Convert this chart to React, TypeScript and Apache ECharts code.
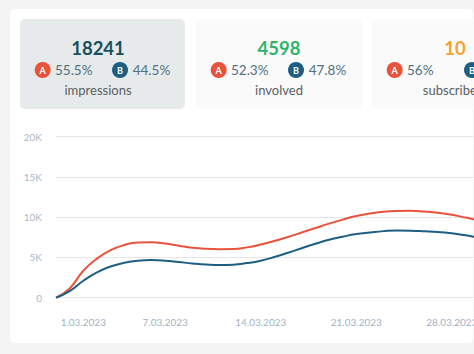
import React, { useEffect, useRef } from 'react';
import * as echarts from 'echarts';

const categories = [
  '27.02.2023', '28.02.2023', '1.03.2023', '2.03.2023', '3.03.2023', '4.03.2023', '5.03.2023',
  '6.03.2023', '7.03.2023', '8.03.2023', '9.03.2023', '10.03.2023', '11.03.2023', '12.03.2023',
  '13.03.2023', '14.03.2023', '15.03.2023', '16.03.2023', '17.03.2023', '18.03.2023', '19.03.2023',
  '20.03.2023', '21.03.2023', '22.03.2023', '23.03.2023', '24.03.2023', '25.03.2023', '26.03.2023',
  '27.03.2023', '28.03.2023', '29.03.2023', '30.03.2023', '31.03.2023',
];

const seriesA = [
  0, 1150, 3350, 4850, 5900, 6550, 6850, 6880, 6720, 6450, 6200, 6070, 6030, 6050, 6250, 6600,
  7050, 7550, 8100, 8650, 9200, 9700, 10150, 10450, 10680, 10780, 10800, 10700, 10550, 10300,
  9950, 9600, 9300,
];

const seriesB = [
  0, 820, 2100, 3150, 3870, 4330, 4590, 4670, 4600, 4430, 4260, 4130, 4070, 4100, 4300, 4600,
  5050, 5580, 6150, 6700, 7200, 7580, 7900, 8100, 8270, 8350, 8330, 8250, 8150, 8000, 7750,
  7450, 7200,
];

const yTickLabels = ['0', '5K', '10K', '15K', '20K'];
const xLabelDates = ['1.03.2023', '7.03.2023', '14.03.2023', '21.03.2023', '28.03.2023'];

const statValues = ['18241', '4598', '10'];
const statShareA = ['55.5%', '52.3%', '56%'];
const statShareB = ['44.5%', '47.8%', '44%'];
const statLabels = ['impressions', 'involved', 'subscribers'];

const FONT = 'Lato, "Open Sans", sans-serif';
const RED = '#e8533b';
const BLUE = '#1c5f83';
const statColors = ['#16505f', '#31b36c', '#f6a031'];
const cardX = [20, 196, 372];
const cardW = [165, 166, 166];
const cardFill = ['#e6eaeb', '#fafafa', '#fafafa'];
const textCx = [98, 279, 455];

function buildGraphic() {
  const els: any[] = [
    {
      type: 'rect',
      z: -20,
      silent: true,
      shape: { x: 10, y: 9, width: 463, height: 334, r: 4 },
      style: { fill: '#ffffff' },
    },
  ];
  statValues.forEach((v, i) => {
    const x0 = cardX[i];
    els.push({
      type: 'rect',
      z: -10,
      silent: true,
      shape: { x: x0, y: 19, width: cardW[i], height: 90, r: 5 },
      style: { fill: cardFill[i] },
    });
    els.push({
      type: 'text',
      z: 10,
      x: textCx[i],
      y: 48,
      style: {
        text: v,
        fill: statColors[i],
        font: `bold 18.5px ${FONT}`,
        align: 'center',
        verticalAlign: 'middle',
      },
    });
    const badges = [
      { letter: 'A', color: RED, cx: x0 + 22.7, tx: x0 + 35, val: statShareA[i] },
      { letter: 'B', color: BLUE, cx: x0 + 100, tx: x0 + 112.7, val: statShareB[i] },
    ];
    badges.forEach((b) => {
      els.push({
        type: 'circle',
        z: 10,
        shape: { cx: b.cx, cy: 70, r: 8 },
        style: { fill: b.color },
      });
      els.push({
        type: 'text',
        z: 11,
        x: b.cx,
        y: 70.5,
        style: {
          text: b.letter,
          fill: '#ffffff',
          font: `bold 9px ${FONT}`,
          align: 'center',
          verticalAlign: 'middle',
        },
      });
      els.push({
        type: 'text',
        z: 10,
        x: b.tx,
        y: 70,
        style: {
          text: b.val,
          fill: '#52707f',
          font: `13.5px ${FONT}`,
          align: 'left',
          verticalAlign: 'middle',
        },
      });
    });
    els.push({
      type: 'text',
      z: 10,
      x: textCx[i],
      y: 90,
      style: {
        text: statLabels[i],
        fill: '#5a5f64',
        font: `13px ${FONT}`,
        align: 'center',
        verticalAlign: 'middle',
      },
    });
  });
  return els;
}

export default function App() {
  const ref = useRef<HTMLDivElement>(null);
  useEffect(() => {
    if (!ref.current) return;
    const chart = echarts.init(ref.current, null, { renderer: 'svg' });
    chart.setOption({
      animation: false,
      backgroundColor: '#f4f4f4',
      graphic: { elements: buildGraphic() },
      grid: { left: 56, right: 7.2, top: 136.7, bottom: 56.3 },
      xAxis: {
        type: 'category',
        data: categories,
        boundaryGap: false,
        axisLine: { show: false },
        axisTick: { show: false },
        axisLabel: {
          interval: (_i: number, v: string) => xLabelDates.includes(v),
          color: '#a2b2c2',
          fontSize: 10,
          fontFamily: FONT,
          margin: 19,
        },
      },
      yAxis: {
        type: 'value',
        min: 0,
        max: 20000,
        interval: 5000,
        axisLine: { show: false },
        axisTick: { show: false },
        splitLine: { lineStyle: { color: '#e3e5e8', width: 1 } },
        axisLabel: {
          formatter: (v: number) => yTickLabels[Math.round(v / 5000)],
          color: '#a9b8c8',
          fontSize: 10,
          fontFamily: FONT,
          margin: 14,
        },
      },
      series: [
        {
          type: 'line',
          name: 'A',
          data: seriesA,
          smooth: true,
          showSymbol: false,
          lineStyle: { color: RED, width: 2 },
          itemStyle: { color: RED },
        },
        {
          type: 'line',
          name: 'B',
          data: seriesB,
          smooth: true,
          showSymbol: false,
          lineStyle: { color: BLUE, width: 2 },
          itemStyle: { color: BLUE },
        },
      ],
    });
    return () => chart.dispose();
  }, []);
  return (
    <div
      style={{
        position: 'fixed',
        left: 0,
        top: 0,
        width: 474,
        height: 354,
        overflow: 'hidden',
        background: '#f4f4f4',
      }}
    >
      <div ref={ref} style={{ width: 500, height: 354 }} />
    </div>
  );
}
